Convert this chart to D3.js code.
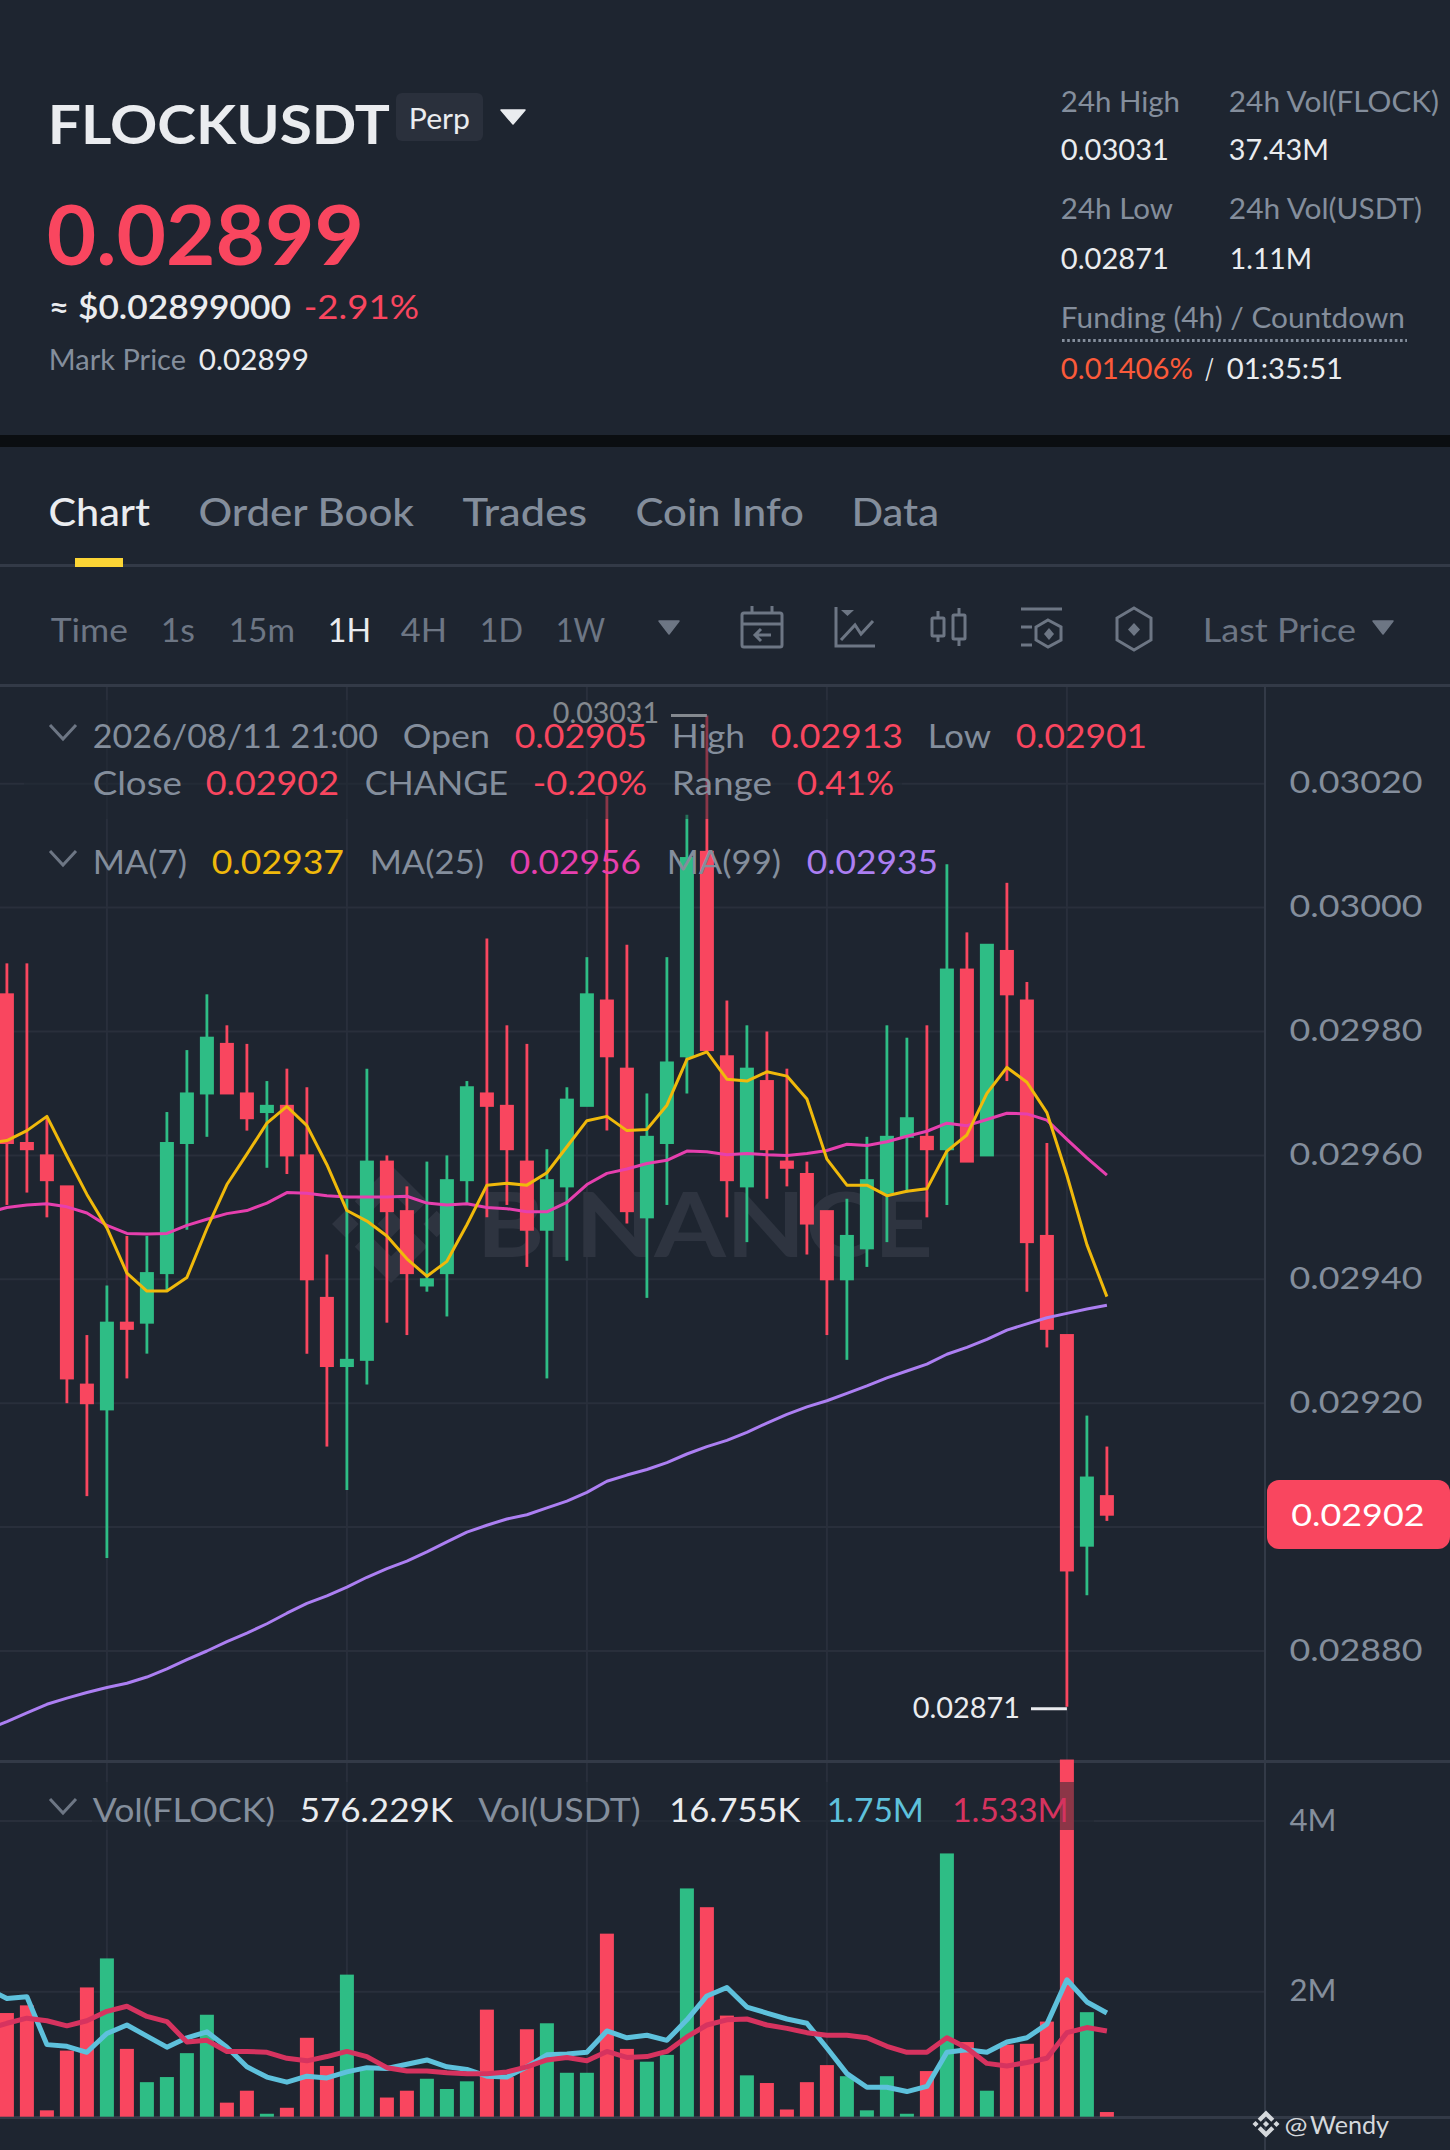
<!DOCTYPE html>
<html>
<head>
<meta charset="utf-8">
<title>FLOCKUSDT Perp</title>
<script src="https://cdn.jsdelivr.net/npm/d3@7"></script>
<style>
	html, body { margin: 0; padding: 0; background: #1e2530; }
	svg { display: block; }
	text { font-family: Lato, "Open Sans", sans-serif; }
</style>
</head>
<body>
<div id="vis"></div>
<script>
// candles, index 0 is the left most one
const opens = [0.02986,0.02962,0.02960,0.02955,0.02923,0.02919,0.02933,0.02933,0.02941,0.02962,0.02970,0.02978,0.02970,0.02967,0.02968,0.02960,0.02937,0.02926,0.02927,0.02959,0.02951,0.02939,0.02941,0.02956,0.02970,0.02968,0.02959,0.02948,0.02955,0.02968,0.02985,0.02974,0.02950,0.02962,0.02976,0.03009,0.02976,0.02955,0.02972,0.02959,0.02957,0.02951,0.02940,0.02945,0.02954,0.02963,0.02963,0.02961,0.02990,0.02960,0.02993,0.02985,0.02947,0.02931,0.02897,0.02905];
const highs = [0.02991,0.02991,0.02966,0.02955,0.02931,0.02939,0.02947,0.02947,0.02967,0.02977,0.02986,0.02981,0.02978,0.02972,0.02974,0.02971,0.02944,0.02953,0.02974,0.02960,0.02955,0.02959,0.02960,0.02972,0.02995,0.02981,0.02978,0.02961,0.02971,0.02992,0.03018,0.02994,0.02970,0.02992,0.03015,0.03031,0.02985,0.02981,0.02980,0.02974,0.02959,0.02951,0.02953,0.02963,0.02981,0.02979,0.02981,0.03007,0.02996,0.02994,0.03004,0.02988,0.02962,0.02931,0.02918,0.02913];
const lows = [0.02952,0.02954,0.02950,0.02920,0.02905,0.02895,0.02924,0.02928,0.02938,0.02948,0.02963,0.02970,0.02964,0.02958,0.02957,0.02928,0.02913,0.02906,0.02923,0.02933,0.02931,0.02938,0.02934,0.02952,0.02950,0.02952,0.02942,0.02924,0.02943,0.02968,0.02964,0.02949,0.02937,0.02952,0.02970,0.02977,0.02950,0.02946,0.02953,0.02955,0.02944,0.02931,0.02927,0.02942,0.02946,0.02954,0.02950,0.02952,0.02959,0.02960,0.02972,0.02938,0.02929,0.02871,0.02889,0.02901];
const closes = [0.02962,0.02961,0.02956,0.02924,0.02920,0.02933,0.02932,0.02941,0.02962,0.02970,0.02979,0.02970,0.02966,0.02968,0.02960,0.02940,0.02926,0.02927,0.02959,0.02951,0.02941,0.02940,0.02956,0.02971,0.02968,0.02961,0.02948,0.02956,0.02969,0.02986,0.02976,0.02951,0.02963,0.02975,0.03008,0.02977,0.02956,0.02974,0.02961,0.02958,0.02949,0.02940,0.02947,0.02956,0.02963,0.02966,0.02961,0.02990,0.02959,0.02994,0.02986,0.02946,0.02932,0.02893,0.02908,0.02902];

// moving averages, these start one bar before the first candle (off screen)
const ma7 = [0.029619,0.029624,0.029640,0.029663,0.029599,0.029537,0.029483,0.029410,0.029381,0.029381,0.029403,0.029482,0.029553,0.029602,0.029652,0.029679,0.029648,0.029585,0.029511,0.029494,0.029470,0.029433,0.029405,0.029429,0.029488,0.029552,0.029555,0.029552,0.029572,0.029614,0.029656,0.029663,0.029640,0.029642,0.029681,0.029755,0.029767,0.029723,0.029720,0.029735,0.029728,0.029691,0.029594,0.029552,0.029552,0.029535,0.029542,0.029546,0.029607,0.029633,0.029700,0.029742,0.029718,0.029669,0.029568,0.029456,0.029372];
const ma25 = [0.029507,0.029516,0.029520,0.029522,0.029517,0.029507,0.029487,0.029474,0.029473,0.029474,0.029487,0.029497,0.029506,0.029511,0.029523,0.029540,0.029539,0.029535,0.029533,0.029533,0.029533,0.029534,0.029523,0.029520,0.029522,0.029516,0.029514,0.029509,0.029509,0.029524,0.029553,0.029571,0.029578,0.029587,0.029592,0.029607,0.029606,0.029601,0.029603,0.029601,0.029600,0.029603,0.029608,0.029618,0.029616,0.029622,0.029631,0.029639,0.029652,0.029648,0.029658,0.029668,0.029667,0.029657,0.029626,0.029596,0.029568];
const ma99 = [0.028673,0.028686,0.028700,0.028714,0.028724,0.028733,0.028741,0.028748,0.028758,0.028771,0.028786,0.028800,0.028815,0.028829,0.028844,0.028861,0.028877,0.028889,0.028903,0.028919,0.028933,0.028945,0.028960,0.028976,0.028992,0.029003,0.029013,0.029020,0.029031,0.029042,0.029056,0.029074,0.029084,0.029093,0.029104,0.029118,0.029130,0.029140,0.029153,0.029168,0.029182,0.029194,0.029204,0.029216,0.029228,0.029241,0.029252,0.029263,0.029279,0.029290,0.029303,0.029318,0.029328,0.029338,0.029345,0.029352,0.029358];

// volume in millions, same index as the candles
const volumes = [1.75,1.84,0.61,1.31,2.05,2.39,1.33,0.94,1.00,1.28,1.73,0.70,0.84,0.57,0.64,1.46,1.13,2.20,1.10,0.76,0.84,0.98,0.86,0.95,1.79,1.00,1.56,1.63,1.05,1.05,2.68,1.33,1.18,1.26,3.21,2.99,1.72,1.02,0.93,0.62,0.94,1.14,1.01,0.61,1.01,0.57,1.07,3.62,1.41,0.84,1.38,1.39,1.65,4.72,1.76,0.59];
const volMaBlue = [2.04,1.92,1.94,1.38,1.36,1.29,1.51,1.61,1.48,1.35,1.46,1.53,1.35,1.12,1.00,0.94,1.01,0.99,1.06,1.11,1.10,1.15,1.20,1.12,1.09,1.01,1.00,1.12,1.26,1.27,1.29,1.54,1.46,1.49,1.43,1.67,1.95,2.05,1.82,1.75,1.68,1.63,1.34,1.04,0.88,0.88,0.83,0.89,1.29,1.32,1.29,1.41,1.46,1.62,2.14,1.88,1.75];
const volMaRed = [1.56,1.63,1.69,1.66,1.60,1.66,1.77,1.83,1.71,1.65,1.41,1.43,1.30,1.30,1.29,1.22,1.19,1.24,1.30,1.24,1.11,1.07,1.07,1.05,1.04,1.04,1.06,1.12,1.20,1.23,1.19,1.30,1.23,1.24,1.30,1.47,1.61,1.67,1.68,1.61,1.57,1.52,1.49,1.49,1.46,1.36,1.29,1.29,1.46,1.34,1.16,1.13,1.17,1.22,1.52,1.58,1.54];

const priceTicks = [0.0288,0.0290,0.0292,0.0294,0.0296,0.0298,0.0300,0.0302];
const priceLabels = [0.0288,0.0292,0.0294,0.0296,0.0298,0.0300,0.0302]; // 0.02900 sits behind the last price tag
const volTicks = [2,4];
const timeTicks = [5,17,29,41,53];

const tabs = ["Chart","Order Book","Trades","Coin Info","Data"];
const intervals = ["Time","1s","15m","1H","4H","1D","1W"];

const BG = "#1e2530", RED = "#f9465f", GREEN = "#2ebd85", GREY = "#848e9c", DIM = "#6d7684",
	WHITE = "#eaecef", LINE = "#333a47", GRID = "#292f3b", MARK = "#2e3440";

const svg = d3.select("#vis").append("svg").attr("width", 1450).attr("height", 2150);
svg.append("rect").attr("width", 1450).attr("height", 2150).attr("fill", BG);

// text with a fixed width, the app font isn't available so squeeze the closest one in
function label(parent, str, x, y, size, color, width, weight) {
	const pad = size * .04; // side bearing of the stand in font
	const t = parent.append("text").text(str)
		.attr("x", x - pad).attr("y", y + .5)
		.attr("font-size", size)
		.attr("fill", color)
		.attr("font-weight", weight || 400);
	if (width) t.attr("textLength", width + pad).attr("lengthAdjust", "spacingAndGlyphs");
	return t;
}

function triangle(parent, x0, x1, y0, y1, color) {
	parent.append("path")
		.attr("d", `M${x0} ${y0}L${x1} ${y0}L${(x0 + x1) / 2} ${y1}Z`)
		.attr("fill", color).attr("stroke", color).attr("stroke-width", 1.5).attr("stroke-linejoin", "round");
}

function chevron(parent, x0, x1, y0, y1) {
	parent.append("path")
		.attr("d", `M${x0} ${y0}L${(x0 + x1) / 2} ${y1}L${x1} ${y0}`)
		.attr("fill", "none").attr("stroke", DIM).attr("stroke-width", 3);
}

function binanceLogo(parent, cx, cy, size, color) {
	parent.append("path")
		.attr("d", "m38.73 53.2 24.59-24.58 24.6 24.6 14.3-14.31-38.9-38.91-38.9 38.9z m-38.73 10.11 14.3-14.31 14.31 14.31-14.31 14.3z m38.73 10.1 24.59 24.59 24.6-24.6 14.31 14.29-38.9 38.91-38.91-38.88-.02-.02z m59.27-10.1 14.3-14.31 14.31 14.3-14.31 14.32z m-20.17 0-14.51-14.52-14.51 14.5 14.51 14.5 14.51-14.47z")
		.attr("fill", color)
		.attr("transform", `translate(${cx - size / 2} ${cy - size / 2}) scale(${size / 126.61})`);
}

// ---- header ----
const head = svg.append("g");
label(head, "FLOCKUSDT", 50, 143, 54, WHITE, 340, 700);
head.append("rect").attr("x", 396).attr("y", 93).attr("width", 87).attr("height", 48).attr("rx", 6).attr("fill", "#2a303c");
label(head, "Perp", 410, 128, 28, WHITE, 60);
triangle(head, 501, 525, 110, 124, WHITE);
label(head, "0.02899", 50, 264, 82, RED, 314, 700);
label(head, "≈ $0.02899000", 50, 318, 33, WHITE, 241, 600);
label(head, "-2.91%", 305, 318, 33, RED, 114);
label(head, "Mark Price", 50, 369, 28, GREY, 136);
label(head, "0.02899", 200, 369, 28, WHITE, 109);

label(head, "24h High", 1062, 111, 29, GREY, 118);
label(head, "24h Vol(FLOCK)", 1230, 111, 29, GREY, 209);
label(head, "0.03031", 1062, 159, 29, WHITE, 107);
label(head, "37.43M", 1230, 159, 29, WHITE, 99);
label(head, "24h Low", 1062, 218, 29, GREY, 111);
label(head, "24h Vol(USDT)", 1230, 218, 29, GREY, 192);
label(head, "0.02871", 1062, 268, 29, WHITE, 107);
label(head, "1.11M", 1231, 268, 29, WHITE, 81);
label(head, "Funding (4h) / Countdown", 1062, 327, 29, GREY, 343);
head.append("line").attr("x1", 1062).attr("x2", 1407).attr("y1", 340.5).attr("y2", 340.5)
	.attr("stroke", GREY).attr("stroke-width", 3).attr("stroke-dasharray", "2.6 2.6");
label(head, "0.01406%", 1062, 378, 29, "#fb5a3a", 131);
label(head, "/", 1206, 378, 29, WHITE, 8);
label(head, "01:35:51", 1228, 378, 29, WHITE, 115);

head.append("rect").attr("x", 0).attr("y", 435).attr("width", 1450).attr("height", 12).attr("fill", "#0b0e11");

// ---- tabs and toolbar ----
const tabX = [[50,100],[200,214],[464,123],[637,167],[853,86]];
tabs.forEach((t, i) => label(head, t, tabX[i][0], 525, 38, i === 0 ? WHITE : GREY, tabX[i][1], 500));
head.append("rect").attr("x", 0).attr("y", 564).attr("width", 1450).attr("height", 3).attr("fill", LINE);
head.append("rect").attr("x", 75).attr("y", 558).attr("width", 48).attr("height", 9).attr("fill", "#fcd535");

const intervalX = [[52,76],[162,33],[230,65],[329,42],[402,45],[481,42],[557,48]];
intervals.forEach((t, i) => label(head, t, intervalX[i][0], 641.5, 32, t === "1H" ? WHITE : DIM, intervalX[i][1]));
triangle(head, 659, 679, 621, 634, DIM);
head.append("rect").attr("x", 0).attr("y", 684).attr("width", 1450).attr("height", 3).attr("fill", LINE);

// toolbar icons
const icons = head.append("g").attr("fill", "none").attr("stroke", DIM).attr("stroke-width", 3);
icons.append("rect").attr("x", 742).attr("y", 613).attr("width", 40).attr("height", 34).attr("rx", 2);
icons.append("path").attr("d", "M752 606V613M772 606V613M742 624H782M771 635H755M761 629L755 635L761 641");
icons.append("path").attr("d", "M836 607V646H875M841 640L855 625L861 634L873 621");
head.append("path").attr("d", "M841 610H854L847.5 616Z").attr("fill", DIM);
icons.append("rect").attr("x", 932).attr("y", 618).attr("width", 12).attr("height", 18).attr("rx", 1);
icons.append("rect").attr("x", 953).attr("y", 615).attr("width", 12).attr("height", 24).attr("rx", 1);
icons.append("path").attr("d", "M938 611V618M938 636V642M959 608V615M959 639V646");
icons.append("path").attr("d", "M1021 609H1062M1021 627H1032M1021 645H1032M1048 620L1061 627V640L1048 647L1036 640V627Z");
head.append("path").attr("d", "M1049 628L1054 634L1049 640L1044 634Z").attr("fill", DIM);
icons.append("path").attr("d", "M1134 608L1151 618V640L1134 650L1117 640V618Z");
head.append("path").attr("d", "M1134 623L1140 629.5L1134 636L1128 629.5Z").attr("fill", DIM);
label(head, "Last Price", 1204, 641.5, 32, DIM, 152);
triangle(head, 1373, 1393, 621, 634, DIM);

// ---- scales ----
const xScale = d3.scaleLinear().domain([0, 55]).range([6.9, 1106.9]);
const yPrice = d3.scaleLinear().domain([0.0288, 0.0302]).range([1651, 783.7]);
const yVol = d3.scaleLinear().domain([2, 4]).range([1991.7, 1821]);
const volBase = 2116.7;
const maX = d3.range(-1, 56);

const chart = svg.append("g");

// grid
chart.selectAll(".gridV").data(timeTicks).join("line")
	.attr("x1", d => xScale(d)).attr("x2", d => xScale(d))
	.attr("y1", 687).attr("y2", 2117)
	.attr("stroke", GRID).attr("stroke-width", 2);
chart.selectAll(".gridP").data(priceTicks).join("line")
	.attr("x1", 0).attr("x2", 1265)
	.attr("y1", d => yPrice(d)).attr("y2", d => yPrice(d))
	.attr("stroke", GRID).attr("stroke-width", 2);
chart.selectAll(".gridVol").data(volTicks).join("line")
	.attr("x1", 0).attr("x2", 1265)
	.attr("y1", d => yVol(d)).attr("y2", d => yVol(d))
	.attr("stroke", GRID).attr("stroke-width", 2);
chart.append("rect").attr("x", 0).attr("y", 1760).attr("width", 1450).attr("height", 3).attr("fill", LINE);
chart.append("rect").attr("x", 0).attr("y", 2116).attr("width", 1450).attr("height", 3).attr("fill", LINE);
chart.append("line").attr("x1", 1265).attr("x2", 1265).attr("y1", 687).attr("y2", 2150)
	.attr("stroke", LINE).attr("stroke-width", 2);

// watermark
binanceLogo(chart, 391, 1224, 118, MARK);
label(chart, "BINANCE", 480, 1256, 90, MARK, 453, 700);

// axes
const priceAxis = d3.axisRight(yPrice).tickValues(priceLabels).tickSize(0).tickPadding(0).tickFormat(d3.format(".5f"));
const volAxis = d3.axisRight(yVol).tickValues(volTicks).tickSize(0).tickPadding(0).tickFormat(d => d + "M");
[[priceAxis, 133, 31], [volAxis, 47, 31]].forEach(a => {
	const g = chart.append("g").attr("transform", "translate(1289.5,0)").call(a[0]);
	g.select(".domain").remove();
	g.selectAll("text")
		.attr("fill", GREY).attr("font-size", a[2]).attr("font-family", "Lato")
		.attr("dy", "0.29em")
		.attr("textLength", a[1]).attr("lengthAdjust", "spacingAndGlyphs");
});

// candles
const candles = chart.append("g");
candles.selectAll(".wick").data(closes).join("line")
	.attr("x1", (d, i) => xScale(i)).attr("x2", (d, i) => xScale(i))
	.attr("y1", (d, i) => yPrice(highs[i])).attr("y2", (d, i) => yPrice(lows[i]))
	.attr("stroke", (d, i) => d >= opens[i] ? GREEN : RED)
	.attr("stroke-width", 2.8);
candles.selectAll(".body").data(closes).join("rect")
	.attr("x", (d, i) => xScale(i) - 7)
	.attr("width", 14)
	.attr("y", (d, i) => yPrice(Math.max(d, opens[i])) - 1)
	.attr("height", (d, i) => Math.abs(yPrice(d) - yPrice(opens[i])) + 2)
	.attr("fill", (d, i) => d >= opens[i] ? GREEN : RED);

// moving average lines
const priceLine = d3.line().x((d, i) => xScale(maX[i])).y(d => yPrice(d));
[[ma99, "#ac7ff2"], [ma25, "#e63fae"], [ma7, "#f0b90b"]].forEach(m => {
	chart.append("path").attr("d", priceLine(m[0]))
		.attr("fill", "none").attr("stroke", m[1]).attr("stroke-width", 3).attr("stroke-linejoin", "round");
});

// 24h high and low markers
const hiIdx = highs.indexOf(d3.max(highs)), loIdx = lows.indexOf(d3.min(lows));
label(chart, "0.03031", 554, yPrice(highs[hiIdx]) + 7, 29, WHITE, 105);
chart.append("line").attr("x1", 671).attr("x2", xScale(hiIdx)).attr("y1", yPrice(highs[hiIdx])).attr("y2", yPrice(highs[hiIdx]))
	.attr("stroke", WHITE).attr("stroke-width", 3);
label(chart, "0.02871", 914, yPrice(lows[loIdx]) + 11, 29, WHITE, 106);
chart.append("line").attr("x1", 1031).attr("x2", xScale(loIdx)).attr("y1", yPrice(lows[loIdx]) + 2).attr("y2", yPrice(lows[loIdx]) + 2)
	.attr("stroke", WHITE).attr("stroke-width", 3);

// volume bars
chart.selectAll(".vol").data(volumes).join("rect")
	.attr("x", (d, i) => xScale(i) - 7)
	.attr("width", 14)
	.attr("y", d => yVol(d))
	.attr("height", d => volBase - yVol(d))
	.attr("fill", (d, i) => closes[i] >= opens[i] ? GREEN : RED);

const volLine = d3.line().x((d, i) => xScale(maX[i])).y(d => yVol(d));
[[volMaBlue, "#5ec1dc"], [volMaRed, "#d6335f"]].forEach(m => {
	chart.append("path").attr("d", volLine(m[0]))
		.attr("fill", "none").attr("stroke", m[1]).attr("stroke-width", 5).attr("stroke-linejoin", "round");
});

// last price tag
chart.append("rect").attr("x", 1267).attr("y", 1480).attr("width", 183).attr("height", 69).attr("rx", 12).attr("fill", RED);
label(chart, "0." + d3.format(".5f")(closes[55]).slice(2), 1292.5, 1525, 31, "#ffffff", 132);

// ---- legends, they sit on a half see through backing ----
const legend = svg.append("g");
legend.append("rect").attr("x", 24).attr("y", 700).attr("width", 878).attr("height", 119).attr("fill", BG).attr("opacity", 0.5);
legend.append("rect").attr("x", 92).attr("y", 1782).attr("width", 1002).attr("height", 48).attr("fill", BG).attr("opacity", 0.5);

chevron(legend, 50, 76, 725, 739);
label(legend, "2026/08/11 21:00", 94, 747, 33, GREY, 284);
label(legend, "Open", 404, 747, 33, GREY, 86);
label(legend, "0.02905", 516, 747, 33, RED, 131);
label(legend, "High", 673, 747, 33, GREY, 72);
label(legend, "0.02913", 772, 747, 33, RED, 131);
label(legend, "Low", 929, 747, 33, GREY, 62);
label(legend, "0.02901", 1017, 747, 33, RED, 130);
label(legend, "Close", 94, 794.5, 33, GREY, 88);
label(legend, "0.02902", 207, 794.5, 33, RED, 132);
label(legend, "CHANGE", 366, 794.5, 33, GREY, 142);
label(legend, "-0.20%", 534, 794.5, 33, RED, 113);
label(legend, "Range", 673, 794.5, 33, GREY, 99);
label(legend, "0.41%", 798, 794.5, 33, RED, 96);

chevron(legend, 50, 76, 851, 865);
label(legend, "MA(7)", 94, 873, 33, GREY, 93);
label(legend, "0.02937", 213, 873, 33, "#f0b90b", 131);
label(legend, "MA(25)", 371, 873, 33, GREY, 113);
label(legend, "0.02956", 511, 873, 33, "#e63fae", 130);
label(legend, "MA(99)", 668, 873, 33, GREY, 113);
label(legend, "0.02935", 808, 873, 33, "#ac7ff2", 130);

chevron(legend, 50, 76, 1799, 1813);
label(legend, "Vol(FLOCK)", 94, 1821, 33, GREY, 181);
label(legend, "576.229K", 301, 1821, 33, WHITE, 152);
label(legend, "Vol(USDT)", 479.5, 1821, 33, GREY, 161);
label(legend, "16.755K", 670.5, 1821, 33, WHITE, 130);
label(legend, "1.75M", 828, 1821, 33, "#5ec1dc", 96);
label(legend, "1.533M", 953.5, 1821, 33, "#d6335f", 115);

// corner mark
binanceLogo(legend, 1266, 2124, 27, "#d5d8dc");
label(legend, "@", 1285.5, 2133, 24, "#d5d8dc", 22);
label(legend, "Wendy", 1311, 2133, 25, "#d5d8dc", 78);
</script>
</body>
</html>
